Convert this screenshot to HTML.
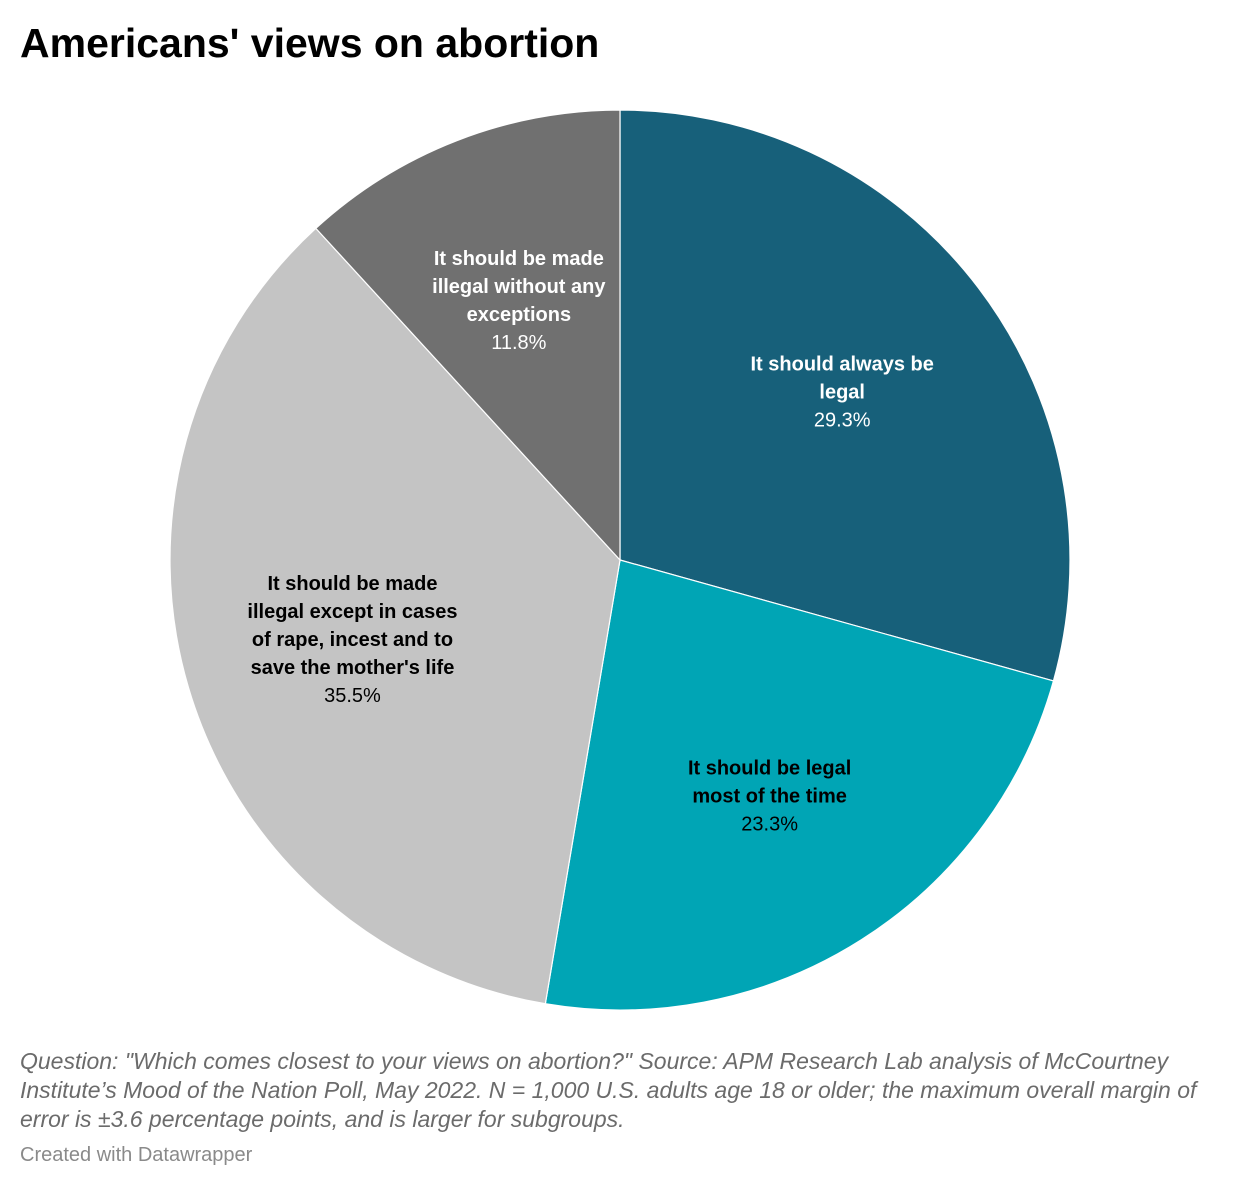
<!DOCTYPE html>
<html><head><meta charset="utf-8">
<style>
html,body{margin:0;padding:0;background:#fff;width:1240px;height:1190px;overflow:hidden;font-family:"Liberation Sans",sans-serif;}
#title{position:absolute;left:20px;top:20px;font-size:41px;font-weight:bold;color:#000;margin:0;}
#notes{position:absolute;left:20px;top:1047px;width:1220px;font-size:23px;font-style:italic;color:#6b6b6b;line-height:29px;white-space:nowrap;}
#credit{position:absolute;left:20px;top:1144px;font-size:20px;color:#8a8a8a;}
svg{position:absolute;left:0;top:0;}
</style></head><body>
<h1 id="title">Americans' views on abortion</h1>
<svg id="chart" width="1240" height="1190"></svg>
<div id="notes">Question: "Which comes closest to your views on abortion?" Source: APM Research Lab analysis of McCourtney<br>Institute’s Mood of the Nation Poll, May 2022. N = 1,000 U.S. adults age 18 or older; the maximum overall margin of<br>error is ±3.6 percentage points, and is larger for subgroups.</div>
<div id="credit">Created with Datawrapper</div>
<script>
const labels = [
  ["It should always be","legal"],
  ["It should be legal","most of the time"],
  ["It should be made","illegal except in cases","of rape, incest and to","save the mother's life"],
  ["It should be made","illegal without any","exceptions"]
];
const values = [29.3, 23.3, 35.5, 11.8];
const colors = ["#17607a","#00a5b5","#c4c4c4","#707070"];
const textColors = ["#fff","#000","#000","#fff"];
const ns="http://www.w3.org/2000/svg";
const svg=document.getElementById('chart');
const cx=620, cy=560, R=450;
const total=values.reduce((a,b)=>a+b,0);
function pt(a,r){return [cx+r*Math.sin(a), cy-r*Math.cos(a)];}
let start=0;
values.forEach((v,i)=>{
  const ang=v/total*2*Math.PI, end=start+ang;
  const [x1,y1]=pt(start,R),[x2,y2]=pt(end,R);
  const p=document.createElementNS(ns,'path');
  p.setAttribute('d',`M${cx},${cy}L${x1},${y1}A${R},${R} 0 ${ang>Math.PI?1:0} 1 ${x2},${y2}Z`);
  p.setAttribute('fill',colors[i]);
  p.setAttribute('stroke','#fff');
  p.setAttribute('stroke-width','1.2');
  
  
  svg.appendChild(p);
  start=end;
});
start=0;
values.forEach((v,i)=>{
  const ang=v/total*2*Math.PI, mid=start+ang/2;
  const [lx,ly]=pt(mid,R*0.62);
  const lines=labels[i];
  const n=lines.length+1, lh=28;
  const top=ly-(n-1)*lh/2;
  const t=document.createElementNS(ns,'text');
  t.setAttribute('text-anchor','middle');
  t.setAttribute('font-size','20');
  t.setAttribute('fill',textColors[i]);
  
  
  lines.forEach((s,j)=>{
    const ts=document.createElementNS(ns,'tspan');
    ts.setAttribute('x',lx);ts.setAttribute('y',top+j*lh+7);
    ts.setAttribute('font-weight','bold');
    ts.textContent=s;t.appendChild(ts);
  });
  const ts=document.createElementNS(ns,'tspan');
  ts.setAttribute('x',lx);ts.setAttribute('y',top+lines.length*lh+7);
  ts.textContent=v.toFixed(1)+'%';t.appendChild(ts);
  svg.appendChild(t);
  start+=ang;
});
</script>
</body></html>
